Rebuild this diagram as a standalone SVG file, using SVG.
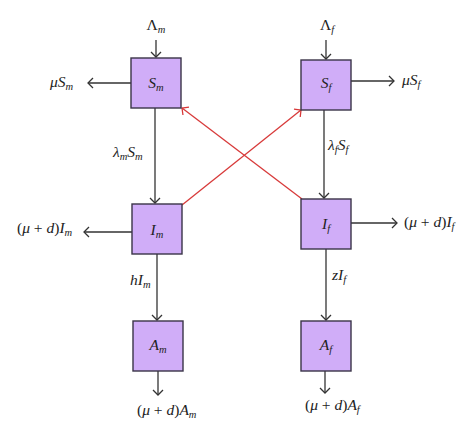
<svg xmlns="http://www.w3.org/2000/svg" width="474" height="436" viewBox="0 0 474 436">
<style>
.box{fill:#d0adf8;stroke:#3a3448;stroke-width:1.4}
.c{stroke:#333;stroke-width:1.3;fill:none}
.r{stroke:#d83a3a;stroke-width:1.3;fill:none}
text{font-family:"Liberation Serif",serif;font-style:italic;font-size:15.5px;fill:#222}
.n{font-style:normal}
.s{font-size:10.5px}
</style>
<defs>
<marker id="a" markerUnits="userSpaceOnUse" markerWidth="12" markerHeight="12" refX="0" refY="0" viewBox="-7 -6 9 12" orient="auto">
<path d="M-5,-5 L0,0 L-5,5" fill="none" stroke="#333" stroke-width="1.3"/>
</marker>
<marker id="ar" markerUnits="userSpaceOnUse" markerWidth="12" markerHeight="12" refX="0" refY="0" viewBox="-7 -6 9 12" orient="auto">
<path d="M-5,-5 L0,0 L-5,5" fill="none" stroke="#d83a3a" stroke-width="1.3"/>
</marker>
</defs>
<g id="connectors">
<line class="c" x1="156" y1="40" x2="156" y2="57" marker-end="url(#a)"/>
<line class="c" x1="131" y1="83" x2="88" y2="83" marker-end="url(#a)"/>
<line class="c" x1="155" y1="108" x2="155" y2="203" marker-end="url(#a)"/>
<line class="c" x1="326" y1="40" x2="326" y2="59" marker-end="url(#a)"/>
<line class="c" x1="351" y1="81" x2="394" y2="81" marker-end="url(#a)"/>
<line class="c" x1="324" y1="110" x2="324" y2="198" marker-end="url(#a)"/>
<line class="c" x1="132" y1="232" x2="84" y2="232" marker-end="url(#a)"/>
<line class="c" x1="157" y1="254" x2="157" y2="320" marker-end="url(#a)"/>
<line class="c" x1="158" y1="371" x2="158" y2="395" marker-end="url(#a)"/>
<line class="c" x1="351" y1="223" x2="397" y2="223" marker-end="url(#a)"/>
<line class="c" x1="326" y1="249" x2="326" y2="320" marker-end="url(#a)"/>
<line class="c" x1="325" y1="371" x2="325" y2="393" marker-end="url(#a)"/>
<line class="r" x1="182" y1="205" x2="301" y2="110" marker-end="url(#ar)"/>
<line class="r" x1="302" y1="199" x2="182" y2="108" marker-end="url(#ar)"/>
<text x="156" y="30" text-anchor="middle"><tspan class="n">Λ</tspan><tspan class="s" dy="3">m</tspan></text>
<text x="50" y="87">μS<tspan class="s" dy="3">m</tspan></text>
<text x="113" y="157">λ<tspan class="s" dy="3">m</tspan><tspan dy="-3">S</tspan><tspan class="s" dy="3">m</tspan></text>
<text x="327" y="30" text-anchor="middle"><tspan class="n">Λ</tspan><tspan class="s" dy="3">f</tspan></text>
<text x="402" y="85">μS<tspan class="s" dy="3">f</tspan></text>
<text x="328" y="150">λ<tspan class="s" dy="3">f</tspan><tspan dy="-3">S</tspan><tspan class="s" dy="3">f</tspan></text>
<text x="17" y="233"><tspan class="n">(</tspan>μ<tspan class="n"> + </tspan>d<tspan class="n">)</tspan>I<tspan class="s" dy="3">m</tspan></text>
<text x="130" y="285">hI<tspan class="s" dy="3">m</tspan></text>
<text x="137" y="415"><tspan class="n">(</tspan>μ<tspan class="n"> + </tspan>d<tspan class="n">)</tspan>A<tspan class="s" dy="3">m</tspan></text>
<text x="404" y="227"><tspan class="n">(</tspan>μ<tspan class="n"> + </tspan>d<tspan class="n">)</tspan>I<tspan class="s" dy="3">f</tspan></text>
<text x="332" y="280">zI<tspan class="s" dy="3">f</tspan></text>
<text x="305" y="410"><tspan class="n">(</tspan>μ<tspan class="n"> + </tspan>d<tspan class="n">)</tspan>A<tspan class="s" dy="3">f</tspan></text>
</g>
<g id="Sm"><rect class="box" x="131" y="58" width="50" height="50"/><text x="156" y="88" text-anchor="middle">S<tspan class="s" dy="3">m</tspan></text></g>
<g id="Sf"><rect class="box" x="301" y="60" width="50" height="50"/><text x="326" y="88" text-anchor="middle">S<tspan class="s" dy="3">f</tspan></text></g>
<g id="Im"><rect class="box" x="132" y="204" width="50" height="50"/><text x="157" y="235" text-anchor="middle">I<tspan class="s" dy="3">m</tspan></text></g>
<g id="If"><rect class="box" x="301" y="199" width="50" height="50"/><text x="326" y="229" text-anchor="middle">I<tspan class="s" dy="3">f</tspan></text></g>
<g id="Am"><rect class="box" x="133" y="321" width="50" height="50"/><text x="158" y="350" text-anchor="middle">A<tspan class="s" dy="3">m</tspan></text></g>
<g id="Af"><rect class="box" x="301" y="321" width="50" height="50"/><text x="326" y="350" text-anchor="middle">A<tspan class="s" dy="3">f</tspan></text></g>
</svg>
